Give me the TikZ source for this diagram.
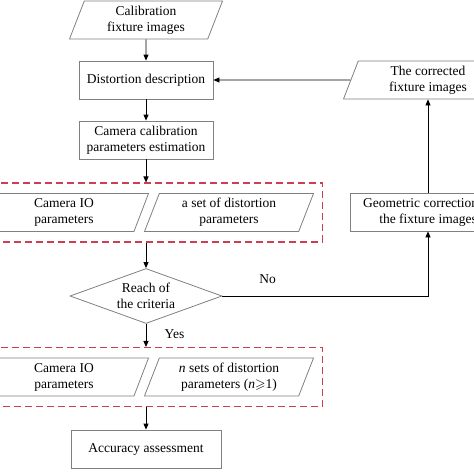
\documentclass[tikz,border=0pt]{standalone}
\usepackage{amssymb}
\usepackage{fontspec}
\setmainfont{Liberation Serif}
\usepackage{tikz}
\usetikzlibrary{positioning,shapes.geometric,fit,arrows.meta}

\begin{document}
\begin{tikzpicture}[x=1pt,y=-1pt,node distance=60pt,on grid,
    font=\fontsize{13.5}{16}\selectfont,
    >={Triangle[length=6pt,width=5pt]},
    flow/.style={->,line width=0.8pt},
    procbox/.style={draw=black!50,line width=0.8pt,rectangle,align=center,minimum width=134pt,minimum height=38pt,inner sep=2pt},
    datain/.style={draw=black!50,line width=0.8pt,trapezium,trapezium left angle=64,trapezium right angle=116,
      trapezium stretches body,align=center,minimum width=169pt,minimum height=38pt,inner sep=1pt},
    decision/.style={draw=black!50,line width=0.8pt,diamond,align=center,aspect=2.76,minimum width=152pt,minimum height=55pt,inner sep=-6pt},
    groupbox/.style={draw={rgb,255:red,205;green,62;blue,82},dash pattern=on 7pt off 4pt,line width=1.2pt,inner xsep=16pt,inner ysep=10pt}]
    \useasboundingbox (0,0) rectangle (474,474);
    \clip (0,0) rectangle (474,474);
    \node[datain,minimum width=153pt] (calib) at (146,20) {Calibration\\fixture images};
    \node[procbox] (desc)         [below=of calib]                {Distortion description};
    \node[procbox] (est)          [below=of desc]                 {Camera calibration\\parameters estimation};
    \node[datain] (io1)           [below left=72.5pt and 82pt of est]   {Camera IO\\parameters};
    \node[datain] (dist1)         [below right=72.5pt and 83pt of est] {a set of distortion\\parameters};
    \node[groupbox,fit=(io1)(dist1)] (grp1) {};
    \node[decision] (crit)        [below=156pt of est]            {Reach of\\the criteria};
    \node[datain] (io2)           [below left=81pt and 82pt of crit]   {Camera IO\\parameters};
    \node[datain] (dist2)         [below right=81pt and 83pt of crit] {\textit{n} sets of distortion\\parameters (\textit{n}$\geqslant$1)};
    \node[groupbox,fit=(io2)(dist2)] (grp2) {};
    \node[procbox,minimum width=150pt] (acc) [below=153pt of crit] {Accuracy assessment};
    \node[datain] (corr)          [right=282pt of desc]           {The corrected\\fixture images};
    \node[procbox,minimum width=156pt] (geo) [below=132pt of corr] {Geometric correction of\\the fixture images};
    \draw[flow] (calib) -- (desc);
    \draw[flow] (desc) -- (est);
    \draw[flow] (est) -- (est |- grp1.north);
    \draw[flow] (crit.north |- grp1.south) -- (crit);
    \draw[flow] (crit) -- node[pos=0.45,right=15pt] {Yes} (crit.south |- grp2.north);
    \draw[flow] (acc.north |- grp2.south) -- (acc);
    \draw[flow] (crit) -| node[pos=0.11,above=9pt] {No} (geo);
    \draw[flow] (geo) -- (corr);
    \draw[flow] (corr) -- (desc);
\end{tikzpicture}
\end{document}
